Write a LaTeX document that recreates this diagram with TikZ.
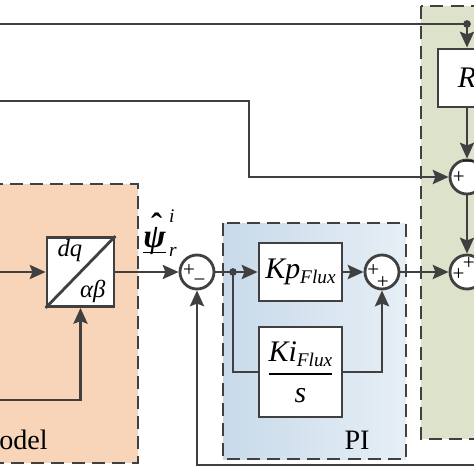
\RequirePackage{fix-cm}
\documentclass[tikz,border=0pt]{standalone}
\usepackage{mathtools, amssymb, amsmath}
\usepackage{fontspec}
\setmainfont{Liberation Serif}
\usetikzlibrary{arrows.meta}
\definecolor{linegray}{RGB}{64,64,64}
\definecolor{modelorange}{RGB}{248,213,185}
\definecolor{piblue}{RGB}{200,218,234}
\definecolor{compgreen}{RGB}{221,227,203}
\tikzstyle{block} = [rectangle, 
minimum width=1.66cm, 
minimum height=1.16cm, 
inner sep=0pt, 
draw=linegray, 
line width=1.6pt, 
fill=white, 
font=\fontsize{17}{20}\selectfont]
\tikzstyle{sum} = [circle, 
minimum size=0.68cm, 
inner sep=0pt, 
draw=linegray, 
line width=1.6pt, 
fill=white]
\tikzstyle{sign} = [inner sep=0pt, font=\fontsize{12}{13}\selectfont]
\tikzstyle{title} = [inner sep=0pt, font=\fontsize{16}{18}\selectfont]
\tikzstyle{region} = [dash pattern=on 7.4pt off 4pt, line width=1.5pt, draw=linegray]
\tikzstyle{wire} = [line width=1.6pt, draw=linegray]
\tikzstyle{arrow} = [wire, -{Stealth[length=9pt, width=8pt, inset=1.5pt]}]
\newcommand{\fluxsub}[1]{#1\raisebox{-3pt}{\fontsize{11}{12}\selectfont\textit{Flux}}}

\begin{document}
\begin{tikzpicture}[x=0.02cm, y=-0.02cm]
    \useasboundingbox (0,0) rectangle (474,474);
    \clip (0,0) rectangle (474,474);
    \draw [region, fill=modelorange] (-10,184) rectangle (138,463);
    \draw [region, left color=piblue, right color=piblue!45!white] (223,223) rectangle (406,459);
    \draw [region, fill=compgreen] (421,6) rectangle (520,439);
    \node (model) [title, anchor=west] at (-1,440) {odel};
    \node (pi) [title] at (357,440) {PI};

    \node (dq) [block, minimum width=1.34cm, minimum height=1.38cm] at (80.5,272) {};
    \draw [wire] (dq.south west) -- (dq.north east);
    \node at (dq.center) [inner sep=0pt, xshift=-6pt, yshift=12pt, font=\fontsize{14}{16}\selectfont] {\textit{dq}};
    \node at (dq.center) [inner sep=0pt, xshift=7pt, yshift=-11pt, font=\fontsize{14}{16}\selectfont] {\textit{αβ}};
    \node (psi) [title, font=\fontsize{19}{20}\selectfont] at (160,233) {\underline{\ooalign{\textit{\bfseries ψ}\cr\hidewidth\kern0.12em\raisebox{0.33em}{\bfseries ˆ}\hidewidth\cr}}\raisebox{0.75em}{\rlap{\fontsize{11}{12}\selectfont\,\textit{i}}}\raisebox{-0.25em}{\fontsize{11}{12}\selectfont\,\textit{r}}};

    \node (sum3) [sum] at (197,272) {};
    \node at (sum3) [sign, xshift=-4.5pt, yshift=1pt] {+};
    \node at (sum3) [sign, xshift=1.5pt, yshift=-6pt] {−};
    \node (kp) [block] at (300.5,272) {\fluxsub{\textit{Kp}}};
    \node (ki) [block, minimum height=1.8cm] at (300.5,372) {$\genfrac{}{}{1.1pt}{0}{\text{\fluxsub{\textit{Ki}}}}{\text{\textit{s}}}$};
    \node (sum4) [sum] at (382,272) {};
    \node at (sum4) [sign, xshift=-5pt, yshift=1pt] {+};
    \node at (sum4) [sign, xshift=0.5pt, yshift=-6pt] {+};

    \node (R) [block, minimum width=1.16cm] at (467,78) {\textit{R}};
    \node (sum1) [sum] at (467,177) {};
    \node at (sum1) [sign, xshift=-4.6pt, yshift=-0.5pt] {+};
    \node at (sum1) [sign, xshift=0.6pt, yshift=7pt] {−};
    \node (sum2) [sum] at (467,272) {};
    \node at (sum2) [sign, xshift=-4.8pt, yshift=-1.7pt] {+};
    \node at (sum2) [sign, xshift=1.1pt, yshift=5pt] {+};

    \coordinate (in1) at (-5,24);
    \coordinate (tap) at (467,24);
    \coordinate (in2) at (-5,101);
    \coordinate (in3) at (-5,272);
    \coordinate (in4) at (-5,400);
    \coordinate (branch) at (233,272);
    \coordinate (fb) at (520,465);

    \draw [wire] (in1) -- (tap);
    \fill [linegray] (tap) circle (2.2pt);
    \draw [arrow] (tap) -- (R);
    \draw [arrow] (R) -- (sum1);
    \draw [arrow] (in2) -- ++(254,0) |- (sum1);
    \draw [arrow] (sum1) -- (sum2);
    \draw [arrow] (in3) -- (dq);
    \draw [arrow] (in4) -| (dq);
    \draw [arrow] (dq) -- (sum3);
    \draw [arrow] (sum3) -- (kp);
    \fill [linegray] (branch) circle (2.2pt);
    \draw [wire] (branch) |- (ki);
    \draw [arrow] (kp) -- (sum4);
    \draw [arrow] (ki) -| (sum4);
    \draw [arrow] (sum4) -- (sum2);
    \draw [arrow] (fb) -| (sum3);
\end{tikzpicture}
\end{document}
